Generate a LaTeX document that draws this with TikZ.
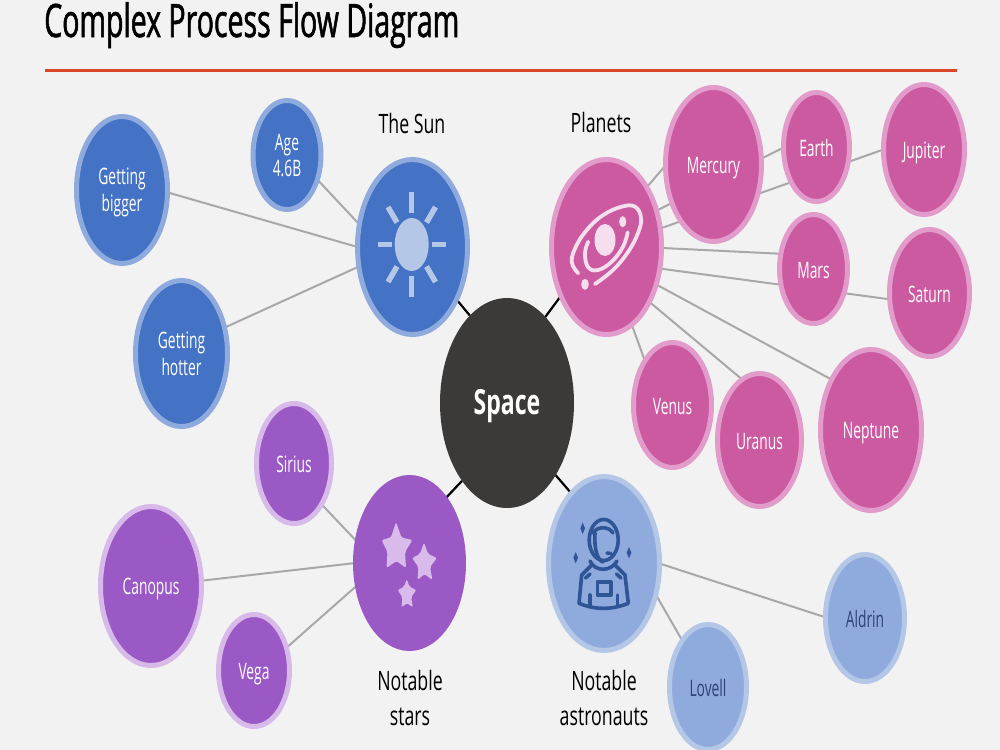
\documentclass[tikz,border=0pt]{standalone}
\usepackage{fontspec}
\setmainfont{Open Sans}[FakeStretch=0.665]
\newfontfamily\bubfont{Open Sans}[FakeStretch=0.61]
\newfontfamily\titlefont{Open Sans}[FakeStretch=0.62,FakeBold=1.2]
\usetikzlibrary{shapes.geometric,backgrounds}
\newcommand{\twolabel}[2]{\rule{0pt}{16.5pt}#1\\#2\rule[-4pt]{0pt}{4pt}}
\definecolor{bgc}{HTML}{F2F2F2}
\definecolor{bluef}{HTML}{4472C4}
\definecolor{blueb}{HTML}{8FAADC}
\definecolor{pinkf}{HTML}{CC5AA0}
\definecolor{pinkb}{HTML}{E29CCB}
\definecolor{purf}{HTML}{9B59C6}
\definecolor{purb}{HTML}{D7B9EA}
\definecolor{skyf}{HTML}{8FAADC}
\definecolor{skyb}{HTML}{B4C7E7}
\definecolor{navyi}{HTML}{2F5597}
\definecolor{navyt}{HTML}{2B4478}
\definecolor{darkf}{HTML}{3B3A38}
\definecolor{linec}{HTML}{A8A8A8}
\definecolor{redl}{HTML}{D9462A}
\definecolor{pinki}{HTML}{F5DFEE}
\definecolor{puri}{HTML}{D9BBEB}
\definecolor{suni}{HTML}{B4C7E7}
\tikzset{
  px/.style={line width=#1*0.75pt},
  bub/.style 2 args={ellipse,inner sep=0pt,outer sep=0pt,line width=3.75pt,
    minimum width={(#1-5)*0.75pt},minimum height={(#2-5)*0.75pt},
    align=center,font=\bubfont\fontsize{17}{20}\selectfont,text=white},
  labelled/.style={execute at begin node={\rule{0pt}{17.5pt}},execute at end node={\rule[-4pt]{0pt}{4pt}}},
  sunb/.style={fill=bluef,draw=blueb},
  planb/.style={fill=pinkf,draw=pinkb},
  starb/.style={fill=purf,draw=purb},
  astb/.style={fill=skyf,draw=skyb,text=navyt},
  captext/.style={align=center,font=\fontsize{20}{26}\selectfont,text=black},
  thin link/.style={draw=linec,px=2},
  main link/.style={draw=black,px=2.2},
  orb/.style={draw=pinki,px=3.8,line cap=round},
  astro/.style={draw=navyi,px=3.6,line join=round,line cap=round},
  stardraw/.style={fill=puri,rounded corners=1.6pt}
}
\begin{document}
\begin{tikzpicture}[x=0.75pt,y=-0.75pt]
\useasboundingbox (0,0) rectangle (1000,750);
% title
\node[anchor=base west,inner sep=0pt,font=\titlefont\fontsize{34.5}{40}\selectfont,text=black] (title) at (44,37) {Complex Process Flow Diagram};
\coordinate (ruleL) at (45,70.5);
\coordinate (ruleR) at (957,70.5);
\draw[draw=redl,px=3] (ruleL) -- (ruleR);
% hubs
\node[ellipse,fill=darkf,inner sep=0pt,outer sep=0pt,minimum width=100.5pt,minimum height=157.5pt,align=center,font=\fontsize{26}{30}\bfseries\selectfont,text=white] (space) at (507,403) {\rule{0pt}{23pt}Space};
\node[bub={115}{180},sunb] (sun) at (412.5,247) {};
\node[bub={115}{180},planb] (planets) at (606.5,247) {};
\node[bub={113}{176},fill=purf,draw=purf] (stars) at (409.5,563) {};
\node[bub={116}{179},astb] (astros) at (604,563.5) {};
% sun group
\node[bub={96}{152},sunb] (bigger) at (122,190) {\twolabel{Getting}{bigger}};
\node[bub={73}{114},sunb] (age) at (287,155) {\twolabel{Age}{4.6B}};
\node[bub={97}{151},sunb] (hotter) at (181.5,353.5) {\twolabel{Getting}{hotter}};
% planets group
\node[bub={101}{159},planb,labelled] (mercury) at (713.5,164.5) {Mercury};
\node[bub={71}{114},planb,labelled] (earth) at (816.5,147) {Earth};
\node[bub={86}{135},planb,labelled] (jupiter) at (924,149.5) {Jupiter};
\node[bub={73}{114},planb,labelled] (mars) at (813.5,269) {Mars};
\node[bub={85}{132},planb,labelled] (saturn) at (929.5,293) {Saturn};
\node[bub={83}{130},planb,labelled] (venus) at (672.5,405) {Venus};
\node[bub={89}{138},planb,labelled] (uranus) at (759.5,440) {Uranus};
\node[bub={106}{166},planb,labelled] (neptune) at (871,430) {Neptune};
% stars group
\node[bub={80}{125},starb,labelled] (sirius) at (294,463.5) {Sirius};
\node[bub={106}{164},starb,labelled] (canopus) at (151,586) {Canopus};
\node[bub={76}{117},starb,labelled] (vega) at (254,670.5) {Vega};
% astronauts group
\node[bub={84}{132},astb,labelled] (aldrin) at (865,618) {Aldrin};
\node[bub={82}{130},astb,labelled] (lovell) at (708,687) {Lovell};
% captions
\node[captext] (capsun) at (412,123) {The Sun};
\node[captext] (capplan) at (601,122) {Planets};
\node[captext] (capstar) at (410,698) {Notable\\stars};
\node[captext] (capast) at (604,698) {Notable\\astronauts};
% connectors + background
\begin{scope}[on background layer]
\fill[bgc] (0,0) rectangle (1000,750);
\draw[thin link] (bigger.-3.7) -- (sun.180);
\draw[thin link] (age.-39) -- (sun.157);
\draw[thin link] (hotter.31) -- (sun.200.6);
\draw[thin link] (sirius.-56) -- (stars.158);
\draw[thin link] (canopus.6.6) -- (stars.180);
\draw[thin link] (vega.35) -- (stars.203.8);
\draw[thin link] (astros.0) -- (aldrin.179);
\draw[thin link] (astros.-31) -- (lovell.119.7);
\draw[thin link] (planets.56.2) -- (mercury.181.7);
\draw[thin link] (planets.36.6) -- (earth.181.6);
\draw[thin link] (planets.19.5) -- (jupiter.180);
\draw[thin link] (planets.-1) -- (mars.155.7);
\draw[thin link] (planets.-22) -- (saturn.189.4);
\draw[thin link] (planets.-37) -- (neptune.128.4);
\draw[thin link] (planets.-52) -- (uranus.106);
\draw[thin link] (planets.-72) -- (venus.122);
\draw[main link] (sun.-50) -- (space.113.8);
\draw[main link] (planets.227) -- (space.66);
\draw[main link] (stars.61.8) -- (space.-120);
\draw[main link] (astros.115) -- (space.-56.7);
\end{scope}
% sun icon
\fill[suni] (411.7,244.5) ellipse [x radius=17, y radius=26.5];
\foreach \a/\b/\c/\d in {411.7/192/411.7/213, 411.7/276/411.7/297, 378/244.5/392/244.5, 431.5/244.5/445.5/244.5, 388/207/397/222.5, 435.5/207/426.5/222.5, 388/282/397/266.5, 435.5/282/426.5/266.5}
  \draw[draw=suni,px=5.5] (\a,\b) -- (\c,\d);
% planet icon
\fill[pinki] (605,240) ellipse [x radius=10.5, y radius=16];
\fill[pinki] (622.7,221.7) ellipse [x radius=3.6, y radius=5.5];
\fill[pinki] (585,284.3) ellipse [x radius=3.8, y radius=5.5];
\draw[orb] plot[smooth,tension=0.7] coordinates {(578.3,273.3) (571.7,261.7) (576.7,245) (588.3,228.3) (603.3,215) (621.7,206.7) (635,206.7) (641,218) (638,233) (628,252) (613,270) (595,284)};
\draw[orb] plot[smooth,tension=0.7] coordinates {(588.3,241.7) (585,253) (588,267) (598,270) (611.7,261.7) (623,246.7) (627.7,232.3)};
% stars icon
\fill[stardraw] (396,522) -- (401.5,537.5) -- (412.5,540) -- (405,552) -- (406,568) -- (396.5,561) -- (386.5,568) -- (387.5,552) -- (381.5,540) -- (391,537.5) -- cycle;
\fill[stardraw] (424,542.5) -- (428,554) -- (437,558) -- (430,567) -- (432.5,580) -- (424.5,574) -- (417.5,580) -- (418.5,567) -- (412,558) -- (420,554) -- cycle;
\fill[stardraw] (406.7,579) -- (409.5,587) -- (416.5,590) -- (411,597) -- (413,607.5) -- (407,603) -- (401.5,607.5) -- (402.5,597) -- (397.5,590) -- (404,587) -- cycle;
% astronaut icon
\draw[astro] (603.7,540) ellipse [x radius=14.5, y radius=20.5];
\draw[astro] (593,533) .. controls (597,526) and (609,526) .. (613,533);
\draw[astro] (595,533) .. controls (594,548) and (597,560) .. (603,562);
\draw[astro] (607,553) -- (611,553.5);
\draw[astro] (590,561) .. controls (595,572) and (611,572) .. (617,561);
\draw[astro] (591.7,565) -- (581.7,575) -- (579,603.3) .. controls (595,610) and (612,610) .. (628.3,603.3) -- (625,575) -- (615,565);
\draw[astro] (597.3,581.7) rectangle (610.7,595);
\draw[astro] (590,595) -- (590,605);
\draw[astro] (617.5,595) -- (617.5,605);
\draw[astro] (585.5,578) -- (590,574);
\draw[astro] (621,578) -- (616.5,574);
\fill[navyi] (582.7,522.5) -- (585,528.3) -- (582.7,534) -- (580.4,528.3) -- cycle;
\fill[navyi] (575.7,552) -- (578,557.7) -- (575.7,563.4) -- (573.4,557.7) -- cycle;
\fill[navyi] (629,547) -- (631.3,552.7) -- (629,558.4) -- (626.7,552.7) -- cycle;
\end{tikzpicture}
\end{document}
